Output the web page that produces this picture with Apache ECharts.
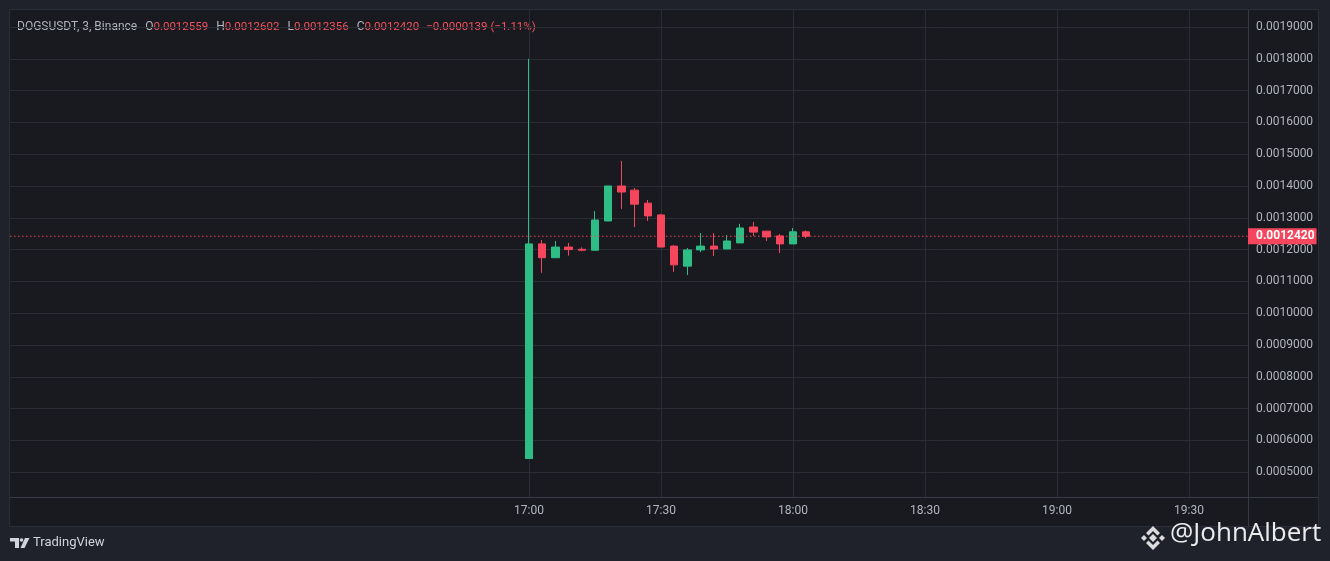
<!DOCTYPE html>
<html><head><meta charset="utf-8">
<script src="https://cdn.jsdelivr.net/npm/echarts@6/dist/echarts.min.js"></script>
<style>html,body{margin:0;padding:0;background:#181a1f;}#c{width:1330px;height:561px;}</style>
</head><body><div id="c"></div>
<script>
// ---- data ----
const times = ['17:00','17:03','17:06','17:09','17:12','17:15','17:18','17:21','17:24','17:27','17:30','17:33','17:36','17:39','17:42','17:45','17:48','17:51','17:54','17:57','18:00','18:03'];
const opens  = [0.000543,0.001218,0.0011745,0.001208,0.001201,0.001198,0.00129,0.0014,0.001387,0.001346,0.001309,0.001211,0.001148,0.001199,0.001211,0.001202,0.001221,0.001271,0.001258,0.001243,0.001218,0.0012559];
const closes = [0.001218,0.0011745,0.001208,0.0012,0.001198,0.001293,0.0014,0.001381,0.001343,0.001306,0.001208,0.001152,0.001199,0.001211,0.001202,0.001227,0.001268,0.001255,0.00124,0.001218,0.0012559,0.001242];
const lows   = [0.000543,0.001127,0.0011745,0.001181,0.001195,0.001198,0.00129,0.001328,0.001271,0.00129,0.001208,0.00113,0.00112,0.001192,0.00118,0.001202,0.001221,0.001243,0.001227,0.001189,0.001218,0.0012356];
const highs  = [0.0018,0.00123,0.001227,0.001221,0.001207,0.001321,0.0014,0.001479,0.001394,0.001356,0.001312,0.001214,0.001205,0.001252,0.001252,0.001246,0.001281,0.001287,0.001258,0.001249,0.001268,0.0012602];
const timeTicks  = ['17:00','17:30','18:00','18:30','19:00','19:30'];
const priceTicks = [0.0005,0.0006,0.0007,0.0008,0.0009,0.0010,0.0011,0.0012,0.0013,0.0014,0.0015,0.0016,0.0017,0.0018,0.0019];
const symbolTitle = 'DOGSUSDT, 3, Binance';

// ---- helpers ----
const toMin = s => { const p = s.split(':'); return +p[0]*60 + +p[1]; };
const fmtTime = m => { const h = Math.floor(m/60), mm = Math.round(m - h*60); return h + ':' + (mm<10?'0':'') + mm; };
const n = closes.length;
const lastO = opens[n-1], lastH = highs[n-1], lastL = lows[n-1], lastC = closes[n-1];
const chg = lastC - closes[n-2];
const pct = chg / closes[n-2] * 100;
const sgn = v => (v < 0 ? '\u2212' : '+') + Math.abs(v).toFixed(7);

const X_MIN = 902.05, X_MAX = 1183.4;
const UP = '#2ebd85', DOWN = '#f6465d', TXT = '#b2b5be', GRID = '#2a2d35', OUTER = '#1f222b', PANE = '#181a1f', SEP = '#363a45';
const FONT = 'Roboto, "Noto Sans", sans-serif';

const candleData = times.map((t,i)=>[toMin(t), opens[i], closes[i], lows[i], highs[i]]);

const chart = echarts.init(document.getElementById('c'), null, {renderer:'canvas'});
chart.setOption({
  animation: false,
  backgroundColor: PANE,
  grid: { left: 10, right: 82, top: 10, bottom: 64, containLabel: false },
  xAxis: {
    type: 'value', min: X_MIN, max: X_MAX,
    axisLine: { show: false },
    axisTick: { show: false, customValues: timeTicks.map(toMin) },
    axisLabel: { customValues: timeTicks.map(toMin), formatter: v => fmtTime(v), color: TXT, fontSize: 12, fontFamily: FONT, margin: 8 },
    splitLine: { show: true, lineStyle: { color: GRID, width: 1 } }
  },
  yAxis: {
    type: 'value', position: 'right', min: 0.00042201, max: 0.00195346, scale: true,
    axisLine: { show: false },
    axisTick: { show: false, customValues: priceTicks },
    axisLabel: { customValues: priceTicks, formatter: v => v.toFixed(7), color: TXT, fontSize: 12, fontFamily: FONT, margin: 8 },
    splitLine: { show: true, lineStyle: { color: GRID, width: 1 } }
  },
  series: [{
    type: 'candlestick',
    data: candleData,
    encode: { x: 0, y: [1,2,3,4] },
    barWidth: 8,
    itemStyle: { color: UP, color0: DOWN, borderColor: UP, borderColor0: DOWN, borderWidth: 1 }
  }, {
    type: 'line',
    data: [[X_MIN, lastC], [X_MAX, lastC]],
    symbol: 'none', silent: true,
    lineStyle: { color: DOWN, type: [1.5, 2.5], width: 1 },
    endLabel: { show: true, formatter: () => lastC.toFixed(7), distance: 0,
      backgroundColor: DOWN, color: '#ffffff', fontWeight: 'bold', fontSize: 12, fontFamily: FONT,
      lineHeight: 12, padding: [2, 2, 2, 8] },
    emphasis: { disabled: true }
  }],
  graphic: [
    // outer frame margins
    { type: 'rect', shape: { x: 0, y: 0, width: 1330, height: 10 }, style: { fill: OUTER }, silent: true },
    { type: 'rect', shape: { x: 0, y: 0, width: 10, height: 561 }, style: { fill: OUTER }, silent: true },
    { type: 'rect', shape: { x: 1318, y: 0, width: 12, height: 561 }, style: { fill: OUTER }, silent: true },
    { type: 'rect', shape: { x: 0, y: 526, width: 1330, height: 35 }, style: { fill: OUTER }, silent: true },
    // separators
    { type: 'line', shape: { x1: 10, y1: 497.5, x2: 1318, y2: 497.5 }, style: { stroke: SEP, lineWidth: 1 }, silent: true },
    { type: 'line', shape: { x1: 1248.5, y1: 10, x2: 1248.5, y2: 526 }, style: { stroke: SEP, lineWidth: 1 }, silent: true },
    { type: 'rect', shape: { x: 9.5, y: 9.5, width: 1309, height: 517 }, style: { fill: null, stroke: '#2a2e39', lineWidth: 1 }, silent: true },
    // header
    { type: 'text', left: 17, top: 21, silent: true,
      style: {
        text: '{n|' + symbolTitle + '}{k|O}{r|' + lastO.toFixed(7) + '}{k|H}{r|' + lastH.toFixed(7) + '}{k|L}{r|' + lastL.toFixed(7) + '}{k|C}{r|' + lastC.toFixed(7) + '}{c|' + sgn(chg) + ' (' + (pct<0?'\u2212':'+') + Math.abs(pct).toFixed(2) + '%)}',
        rich: {
          n: { fill: TXT, fontSize: 12, fontFamily: FONT },
          k: { fill: TXT, fontSize: 12, fontFamily: FONT, padding: [0,0,0,8] },
          r: { fill: '#f7525f', fontSize: 11.5, fontFamily: FONT },
          c: { fill: '#f7525f', fontSize: 11.5, fontFamily: FONT, padding: [0,0,0,7] }
        }
      } },
    // TradingView logo
    { type: 'polygon', shape: { points: [[10,538],[19,538],[19,548],[15,548],[15,541.5],[10,541.5]] }, style: { fill: '#d1d4dc' }, silent: true },
    { type: 'circle', shape: { cx: 21.5, cy: 540, r: 1.8 }, style: { fill: '#d1d4dc' }, silent: true },
    { type: 'polygon', shape: { points: [[25,538],[29.5,538],[24.5,548],[20.5,548]] }, style: { fill: '#d1d4dc' }, silent: true },
    { type: 'text', left: 33, top: 536, silent: true, style: { text: 'TradingView', fill: '#d1d4dc', fontSize: 13, fontFamily: FONT } },
    // Binance-like mark + watermark
    { type: 'polygon', shape: { points: [[1153,534],[1157,538],[1153,542],[1149,538]] }, style: { fill: '#dcdcdc' }, silent: true },
    { type: 'polygon', shape: { points: [[1144,535],[1147,538],[1144,541],[1141,538]] }, style: { fill: '#dcdcdc' }, silent: true },
    { type: 'polygon', shape: { points: [[1162,535],[1165,538],[1162,541],[1159,538]] }, style: { fill: '#dcdcdc' }, silent: true },
    { type: 'polygon', shape: { points: [[1146,533],[1153,526],[1160,533],[1157.5,535.5],[1153,531],[1148.5,535.5]] }, style: { fill: '#dcdcdc' }, silent: true },
    { type: 'polygon', shape: { points: [[1146,543],[1153,550],[1160,543],[1157.5,540.5],[1153,545],[1148.5,540.5]] }, style: { fill: '#dcdcdc' }, silent: true },
    { type: 'text', left: 1170, top: 521, silent: true, style: { text: '@JohnAlbert', fill: '#ececec', fontSize: 26, fontFamily: '"Open Sans", sans-serif' } }
  ]
});
</script></body></html>
